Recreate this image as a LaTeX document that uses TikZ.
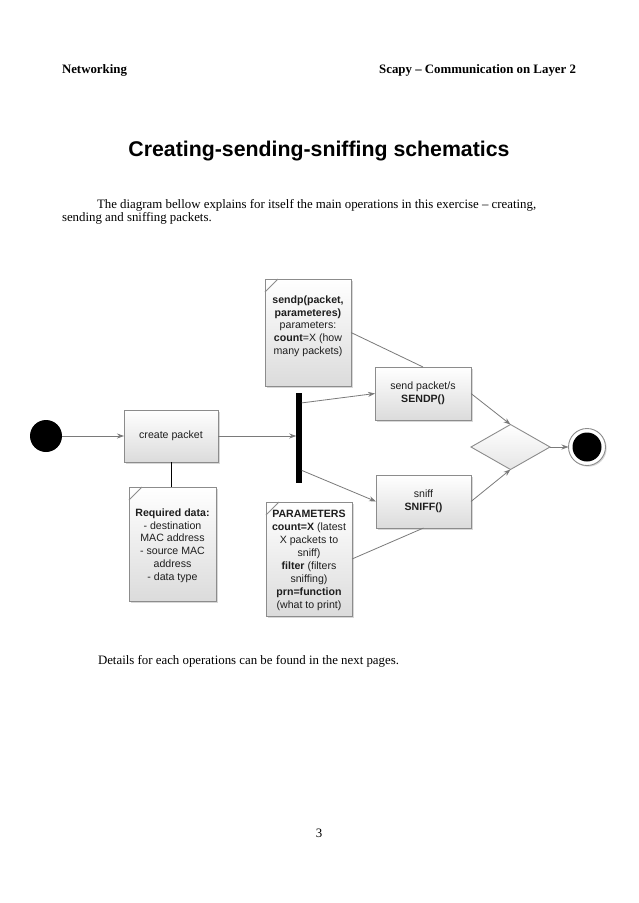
\documentclass[tikz,border=0pt]{standalone}
\usepackage{fontspec}
\setmainfont{Liberation Serif}
\newfontfamily\arialfam{Liberation Sans}
\usetikzlibrary{shapes.geometric,shadows,arrows.meta,calc}
\newcommand\dgfont{\arialfam\fontsize{10.6}{12.9}\selectfont}
\newcommand\pagefont{\fontsize{12.86}{14}\selectfont}
\definecolor{lnc}{HTML}{7A7A7A}
\definecolor{bdc}{HTML}{8C8C8C}
\definecolor{txc}{HTML}{1E1E1E}
\begin{document}
\begin{tikzpicture}[x=1pt,y=-1pt,
  every node/.style={inner sep=0pt, outer sep=0pt},
  conn/.style={draw=lnc, line width=0.8pt},
  arr/.style={conn, -{Stealth[length=7pt,width=5pt]}},
  box/.style={draw=bdc, line width=0.9pt, top color=white, bottom color=black!14,
    drop shadow={shadow xshift=1.6pt, shadow yshift=-1.6pt, opacity=0.3},
    align=center, font=\dgfont, text=txc},
  actbox/.style={box, minimum width=95pt, minimum height=53pt},
  notebox/.style={box, minimum width=86pt},
  notetxt/.style={align=center, font=\dgfont, text=txc, anchor=north},
  fold/.style={draw=bdc, line width=0.8pt},
  pagetxt/.style={font=\pagefont}
]
\useasboundingbox (0,0) rectangle (638,903);
\fill[white] (0,0) rectangle (638,903);

% page texts
\node[pagetxt, anchor=base west, font=\pagefont\bfseries] (hl) at (62,73) {Networking};
\node[pagetxt, anchor=base east, font=\pagefont\bfseries] (hr) at (576,73) {Scapy – Communication on Layer 2};
\node[anchor=base, font=\arialfam\bfseries\fontsize{21.3}{24}\selectfont] (title) at (319,156) {Creating-sending-sniffing schematics};
\node[pagetxt, anchor=base west] (p1) at (97,208) {The diagram bellow explains for itself the main operations in this exercise – creating,};
\node[pagetxt, anchor=base west] (p2) at (62,221) {sending and sniffing packets.};
\node[pagetxt, anchor=base west] (p3) at (98,664) {Details for each operations can be found in the next pages.};
\node[pagetxt, anchor=base] (pn) at (319,837) {3};

% diagram nodes
\node[circle, fill=black, minimum size=32pt] (start) at (46,436) {};
\node[actbox, minimum width=94pt, minimum height=52pt] (create) at (171,436) {create packet};
\node[rectangle, fill=black, minimum width=5.5pt, minimum height=90pt] (bar) at (299,438) {};
\node[actbox, minimum width=96pt] (send) at (423,393.5) {send packet/s\\\textbf{SENDP()}};
\node[actbox] (sniff) at (423.5,501.5) {sniff\\\textbf{SNIFF()}};
\node[diamond, draw=bdc, line width=0.9pt, top color=white, bottom color=black!10,
      minimum width=79pt, minimum height=45pt, aspect=1.75] (dec) at (510.5,447) {};
\node[circle, draw=bdc, line width=0.9pt, fill=white, minimum size=37pt,
      drop shadow={shadow xshift=1.2pt, shadow yshift=-1.2pt, opacity=0.3}] (endo) at (587,447) {};
\node[circle, fill=black, minimum size=29pt] (endi) at (587,447) {};

% notes
\node[notebox, minimum height=107pt] (sendnote) at (308,332.5) {};
\draw[fold] ($(sendnote.north west)+(0,13)$) -- ($(sendnote.north west)+(13,0)$);
\node[notetxt] (sendtxt) at (308,295.5) {\textbf{sendp(packet,}\\\textbf{parameteres)}\\parameters:\\\textbf{count}=X (how\\many packets)};

\node[notebox, minimum height=114pt] (parnote) at (309,559) {};
\draw[fold] ($(parnote.north west)+(0,13)$) -- ($(parnote.north west)+(13,0)$);
\node[notetxt] (partxt) at (309,510.5) {\textbf{PARAMETERS}\\\textbf{count=X} (latest\\X packets to\\sniff)\\\textbf{filter} (filters\\sniffing)\\\textbf{prn=function}\\(what to print)};

\node[notebox, minimum width=87pt, minimum height=114pt] (reqnote) at (172.5,544) {};
\draw[fold] ($(reqnote.north west)+(0,13)$) -- ($(reqnote.north west)+(13,0)$);
\node[notetxt] (reqtxt) at (172.5,508.5) {\textbf{Required data:}\\- destination\\MAC address\\- source MAC\\address\\- data type};

% connectors
\draw[arr] (start.east) -- (create.west);
\draw[arr] (create.east) -- (create.east -| bar.west);
\coordinate (bs1) at ($(bar.north east)!0.11!(bar.south east)$);
\coordinate (bs2) at ($(bar.north east)!0.86!(bar.south east)$);
\draw[arr] (bs1) -- (send.west);
\draw[arr] (bs2) -- (sniff.west);
\draw[arr] (send.east) -- (dec.north);
\draw[arr] (sniff.east) -- (dec.south);
\draw[arr] (dec.east) -- (endo.west);
\draw[conn] (sendnote.east) -- (send.north);
\draw[conn] (parnote.east) -- (sniff.south);
\draw[conn, draw=black] (create.south) -- (create.south |- reqnote.north);
\end{tikzpicture}
\end{document}
